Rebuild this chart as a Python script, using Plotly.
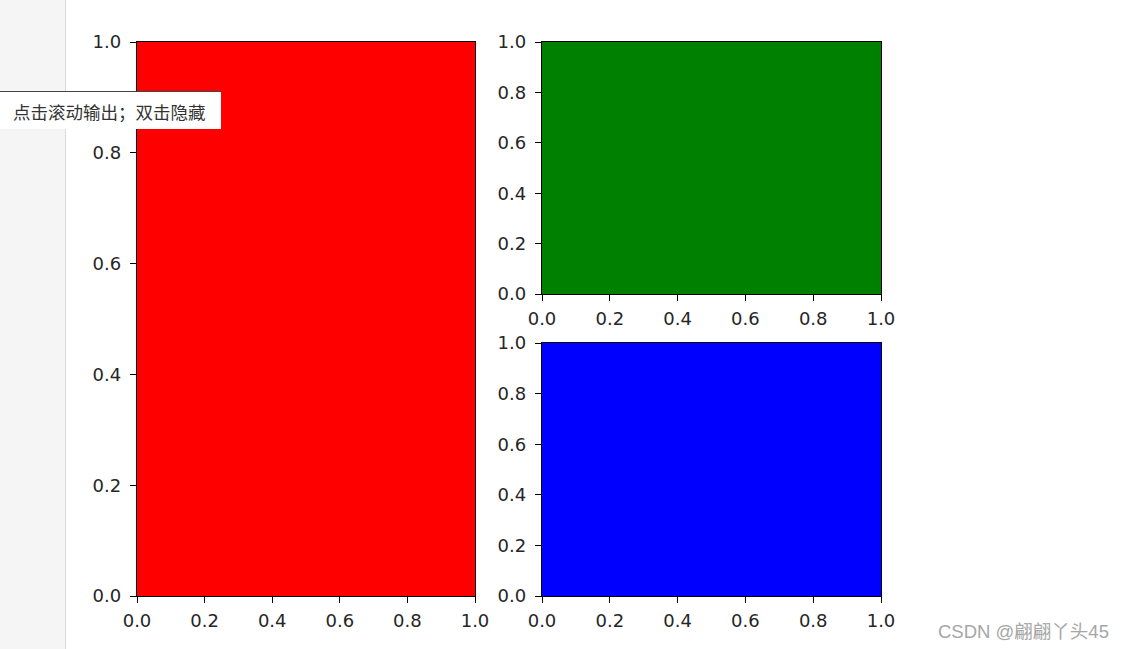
import plotly.graph_objects as go

# Data
panel_names = ["left", "top_right", "bottom_right"]
panel_colors = ["#ff0000", "#008000", "#0000ff"]
bar_x = [0.5, 0.5, 0.5]        # bar centres
bar_heights = [1.0, 1.0, 1.0]  # bar heights (fill whole axes)
bar_widths = [1.0, 1.0, 1.0]
tick_values = [0.0, 0.2, 0.4, 0.6, 0.8, 1.0]
tick_labels = ["0.0", "0.2", "0.4", "0.6", "0.8", "1.0"]
tooltip_text = "点击滚动输出；双击隐藏"
watermark_text = "CSDN @翩翩丫头45"

W, H = 1125, 649

def px_x(a, b):
    return [a / W, b / W]

def px_y(top, bottom):
    return [(H - bottom) / H, (H - top) / H]

domains = [
    (px_x(137, 475), px_y(42, 596)),
    (px_x(542, 881), px_y(42, 294)),
    (px_x(542, 881), px_y(343, 596)),
]

fig = go.Figure()

axis_style = dict(
    range=[0, 1],
    tickvals=tick_values,
    ticktext=tick_labels,
    ticks="outside",
    ticklen=6,
    tickwidth=1.3,
    tickcolor="#000",
    showline=True,
    linecolor="#000",
    linewidth=1.3,
    mirror=True,
    showgrid=False,
    zeroline=False,
    tickfont=dict(family="DejaVu Sans", size=18, color="#262626"),
    fixedrange=True,
    layer="above traces",
)

for i, (name, color) in enumerate(zip(panel_names, panel_colors)):
    suffix = "" if i == 0 else str(i + 1)
    fig.add_trace(go.Bar(
        x=[bar_x[i]], y=[bar_heights[i]], width=[bar_widths[i]],
        marker=dict(color=color, line=dict(width=1.5, color=color)),
        name=name, showlegend=False, cliponaxis=True,
        xaxis="x" + suffix, yaxis="y" + suffix, hoverinfo="skip",
    ))
    xd, yd = domains[i]
    fig.layout["xaxis" + suffix] = dict(axis_style, domain=xd, anchor="y" + suffix,
                                        ticklabelstandoff=2)
    fig.layout["yaxis" + suffix] = dict(axis_style, domain=yd, anchor="x" + suffix,
                                        ticklabelstandoff=5)

shapes = [
    # left gray strip
    dict(type="rect", xref="paper", yref="paper", x0=0, x1=65 / W, y0=0, y1=1,
         fillcolor="#f5f5f5", line=dict(width=0), layer="below"),
    dict(type="line", xref="paper", yref="paper", x0=65.5 / W, x1=65.5 / W, y0=0, y1=1,
         line=dict(color="#d9d9d9", width=1), layer="below"),
    # tooltip box
    dict(type="rect", xref="paper", yref="paper", x0=0, x1=221 / W,
         y0=(H - 129) / H, y1=(H - 92) / H,
         fillcolor="#ffffff", line=dict(width=0), layer="above"),
    dict(type="line", xref="paper", yref="paper", x0=0, x1=221 / W,
         y0=(H - 91.5) / H, y1=(H - 91.5) / H,
         line=dict(color="#444444", width=1.2), layer="above"),
]

annotations = [
    dict(text=tooltip_text, xref="paper", yref="paper", x=11 / W, y=(H - 112) / H,
         xanchor="left", yanchor="middle", showarrow=False,
         font=dict(family="Noto Sans CJK SC", size=17.5, color="#333333")),
    dict(text=watermark_text, xref="paper", yref="paper", x=1111 / W, y=(H - 631) / H,
         xanchor="right", yanchor="middle", showarrow=False,
         font=dict(family="Liberation Sans, Noto Sans CJK SC", size=18.5, color="#a6a6a6")),
]

fig.update_layout(
    width=W, height=H,
    autosize=False,
    margin=dict(l=0, r=0, t=0, b=0, pad=0, autoexpand=False),
    paper_bgcolor="#ffffff",
    plot_bgcolor="#ffffff",
    shapes=shapes,
    annotations=annotations,
    bargap=0,
)

post = """
document.documentElement.style.margin='0';
document.documentElement.style.padding='0';
document.body.style.margin='0';
document.body.style.padding='0';
document.body.style.overflow='hidden';
"""

fig.write_html("out.html", post_script=post,
               config={"displayModeBar": False, "responsive": False})
